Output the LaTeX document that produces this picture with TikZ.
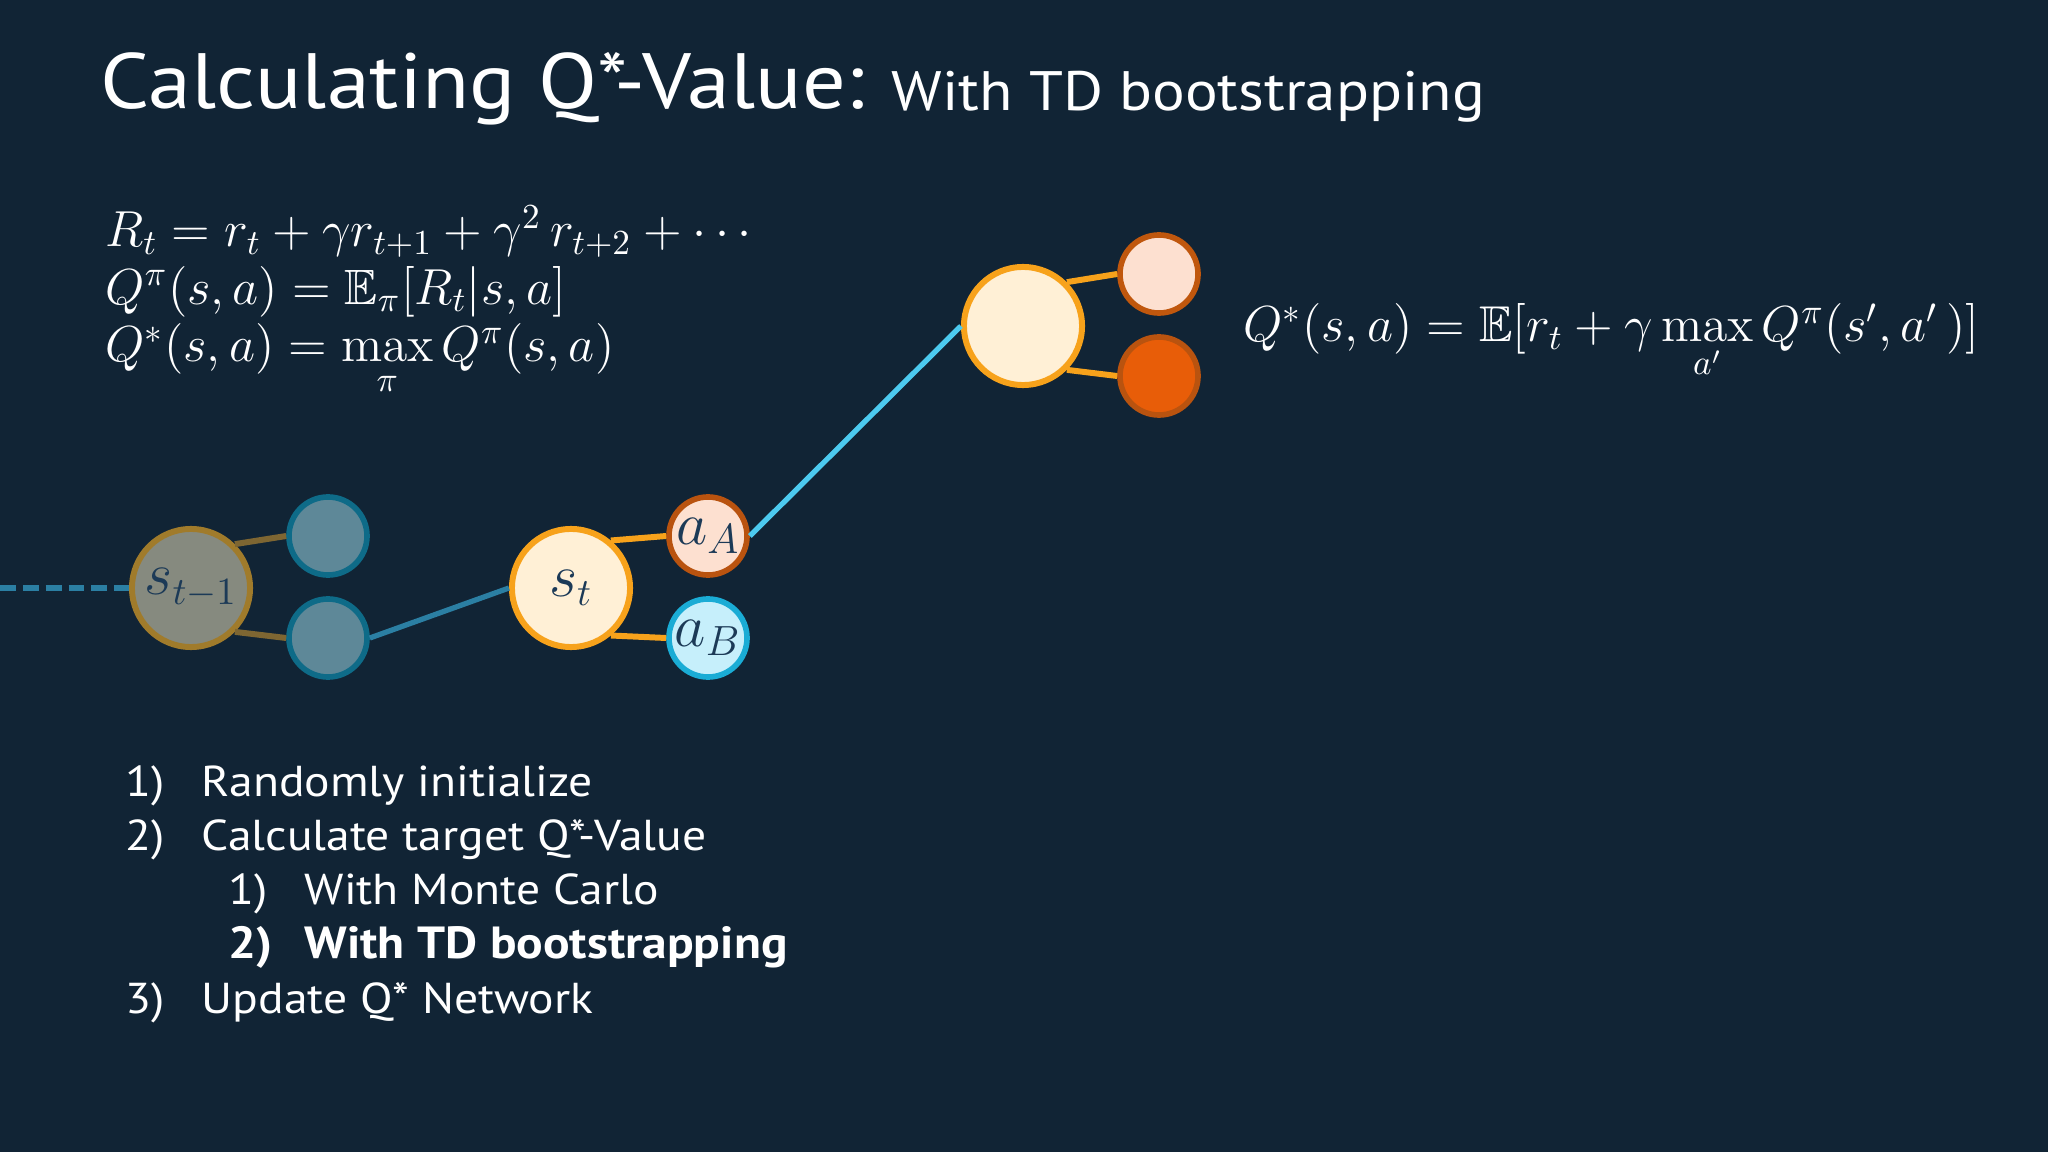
\documentclass[tikz,border=0pt]{standalone}
\usepackage{amsmath}
\usepackage{amssymb}
\usepackage[no-math]{fontspec}
\setmainfont{PT Sans}[FakeStretch=1.1]

\definecolor{bg}{HTML}{112435}
\definecolor{nodetext}{HTML}{1C3A57}
\definecolor{sunfill}{HTML}{FFF0D6}
\definecolor{sunline}{HTML}{F7A21B}
\definecolor{peachfill}{HTML}{FDE0D0}
\definecolor{rustline}{HTML}{B9530F}
\definecolor{icefill}{HTML}{C6EFFB}
\definecolor{iceline}{HTML}{1AACD5}
\definecolor{burnfill}{HTML}{E85D08}
\definecolor{oldfill}{HTML}{868A7F}
\definecolor{oldline}{HTML}{A07B2B}
\definecolor{oldlink}{HTML}{7E6632}
\definecolor{mistfill}{HTML}{5E8898}
\definecolor{mistline}{HTML}{0E6B88}
\definecolor{trail}{HTML}{2B7FA3}
\definecolor{jump}{HTML}{4CCAEF}

\newcommand{\defsfont}{\fontsize{14.1}{16.4}\selectfont\lineskiplimit=-30pt\relax}

\tikzset{
  state/.style={circle, draw, line width=1.7pt, minimum size=1.18cm, inner sep=0pt,
    text=nodetext, font=\fontsize{16}{19}\selectfont},
  action/.style={circle, draw, line width=1.6pt, minimum size=0.78cm, inner sep=0pt,
    text=nodetext, font=\fontsize{17}{20}\selectfont},
  txt/.style={text=white, anchor=base west, inner sep=0pt},
  link/.style={line width=1.7pt, sunline},
}

\begin{document}
\begin{tikzpicture}[x=0.01cm, y=-0.01cm]

    % Background
    \fill[bg] (0,0) rectangle (2048,1152);
    \useasboundingbox (0,0) rectangle (2048,1152);

    % Title
    \node[txt, font=\fontsize{22.3}{26}\selectfont] (title) at (100,109) {Calculating Q*-Value:};
    \node[txt, font=\fontsize{15.8}{19}\selectfont] (subtitle) at (891,111) {With TD bootstrapping};

    % Definitions (base = last line)
    \node[txt, align=left, font=\defsfont] (defs) at (105,362)
      {$R_t = r_t + \gamma r_{t+1} + \gamma^2\, r_{t+2} + \cdots$\\
       $Q^\pi(s,a) = \mathbb{E}_\pi[R_t|s,a]$\\
       $Q^*(s,a) = \max\limits_{\pi} Q^\pi(s,a)$};

    % Target
    \node[txt, font=\fontsize{14.3}{17}\selectfont] (target) at (1243,342)
      {$Q^*(s,a) = \mathbb{E}[r_t + \gamma \max\limits_{a'} Q^\pi(s',a'\,)]$};

    % Previous step (faded)
    \node[state, fill=oldfill, draw=oldline] (sprev) at (191,588) {$s_{t-1}$};
    \node[action, fill=mistfill, draw=mistline] (pa) at (328,536) {};
    \node[action, fill=mistfill, draw=mistline] (pb) at (328,638) {};

    % Current step
    \node[state, fill=sunfill, draw=sunline] (s) at (571,588) {$s_t$};
    \node[action, fill=peachfill, draw=rustline] (aA) at (708,536) {$a_A$};
    \node[action, fill=icefill, draw=iceline] (aB) at (708,638) {$a_B$};

    % Next step
    \node[state, fill=sunfill, draw=sunline] (snext) at (1023,326) {};
    \node[action, fill=peachfill, draw=rustline!90!orange] (na) at (1159,274) {};
    \node[action, fill=burnfill, draw=rustline] (nb) at (1159,376) {};

    % Connectors
    \coordinate (edge) at (0,588);
    \draw[line width=1.5pt, trail, dash pattern=on 4.5pt off 2pt] (edge) -- (sprev.west);
    \draw[link, oldlink] (sprev.45) -- (pa.west);
    \draw[link, oldlink] (sprev.-45) -- (pb.west);
    \draw[line width=1.5pt, trail] (pb.east) -- (s.west);
    \draw[link] (s.50) -- (aA.west);
    \draw[link] (s.-50) -- (aB.west);
    \draw[line width=1.5pt, jump] (aA.east) -- (snext.west);
    \draw[link] (snext.45) -- (na.west);
    \draw[link] (snext.-45) -- (nb.west);

    % Steps
    \begin{scope}[font=\fontsize{12.3}{15}\selectfont]
      \node[txt] (n1) at (125,796) {1)};
      \node[txt] (t1) at (201,796) {Randomly initialize};
      \node[txt] (n2) at (125,850) {2)};
      \node[txt] (t2) at (201,850) {Calculate target Q*-Value};
      \node[txt] (n21) at (228,904) {1)};
      \node[txt] (t21) at (304,904) {With Monte Carlo};
      \node[txt, font=\fontsize{12.8}{15}\selectfont\bfseries] (n22) at (228,958) {2)};
      \node[txt, font=\fontsize{12.8}{15}\selectfont\bfseries] (t22) at (304,958) {With TD bootstrapping};
      \node[txt] (n3) at (125,1013) {3)};
      \node[txt] (t3) at (201,1013) {Update Q* Network};
    \end{scope}

\end{tikzpicture}
\end{document}
